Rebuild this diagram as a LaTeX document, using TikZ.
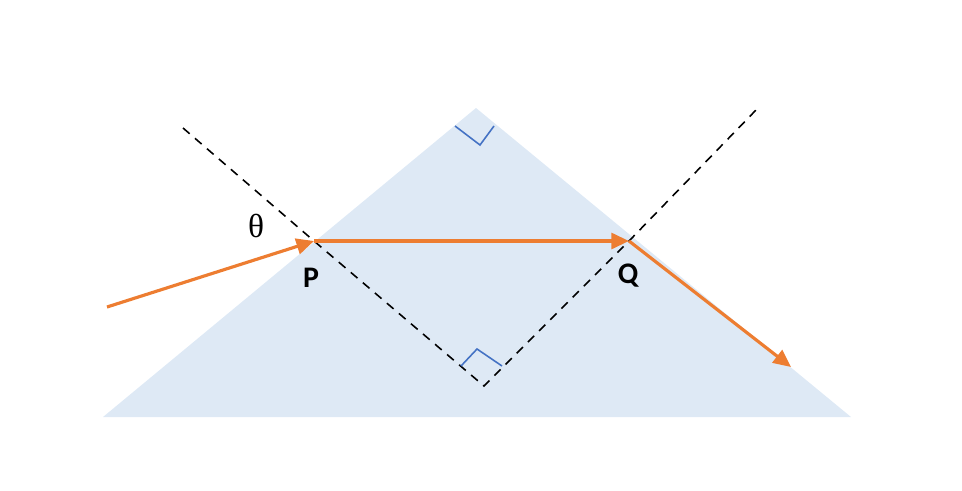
\documentclass[tikz,border=0pt]{standalone}
\usepackage{fontspec}
\setsansfont{Carlito}
\newfontfamily\thetafont{Liberation Serif}
\usetikzlibrary{arrows.meta}
\definecolor{prism}{HTML}{DEE9F5}
\definecolor{ray}{HTML}{ED7D31}
\definecolor{markblue}{HTML}{4472C4}
\tikzset{raystyle/.style={ray,line width=1.8pt,-{Triangle[length=10pt,width=9pt]}},
dsh/.style={black,line width=0.9pt,dash pattern=on 5pt off 4pt},
mk/.style={markblue,line width=0.9pt},
lbl/.style={font=\sffamily\bfseries\fontsize{17}{17}\selectfont}}
\begin{document}
\begin{tikzpicture}[x=0.02cm,y=-0.02cm]
\useasboundingbox (0,0) rectangle (962,490);
\fill[prism] (103,417) -- (476,108) -- (851,417) -- cycle;
\coordinate (A) at (183,128);
\coordinate (P) at (314,241);
\coordinate (B) at (484,386);
\coordinate (Q) at (629,241);
\coordinate (C) at (756,110);
\coordinate (S) at (107,307);
\coordinate (E) at (791,367);
\draw[dsh] (A) -- (P) -- (B) -- (Q) -- (C);
\draw[mk] (455,126) -- (480,145) -- (494,126);
\draw[mk] (461,366) -- (477,349) -- (502,366);
\draw[raystyle] (S) -- (P);
\draw[raystyle] (P) -- (Q);
\draw[raystyle] (Q) -- (E);
\node[font=\thetafont\fontsize{19}{19}\selectfont] (th) at (256,226) {θ};
\node[lbl] (pl) at (311,278) {P};
\node[lbl] (ql) at (628,276) {Q};
\end{tikzpicture}
\end{document}
